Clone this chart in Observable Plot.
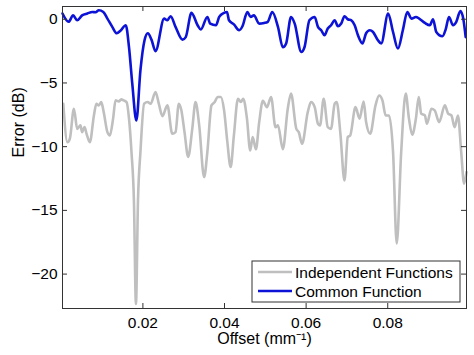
<!DOCTYPE html>
<html>
<head>
<meta charset="utf-8">
<script src="https://cdn.jsdelivr.net/npm/d3@7"></script>
<script src="https://cdn.jsdelivr.net/npm/@observablehq/plot@0.6"></script>
<style>
  html, body { margin: 0; padding: 0; background: white; }
</style>
</head>
<body>
<div id="chart"></div>
<script>
const xTicks = [0.02, 0.04, 0.06, 0.08];
const yTicks = [0, -5, -10, -15, -20];
const seriesNames = ["Independent Functions", "Common Function"];
const seriesColors = ["#bfbfbf", "#0c12d6"];

const commonX = [0.0003,0.0018,0.0029,0.0039,0.0051,0.0064,0.0076,0.0084,0.0092,0.0103,0.0113,0.0125,0.0136,0.0145,0.0158,0.0166,0.0174,0.0184,0.0194,0.0204,0.0212,0.0221,0.0231,0.0252,0.0260,0.0268,0.0280,0.0297,0.0305,0.0319,0.0334,0.0342,0.0358,0.0365,0.0379,0.0387,0.0399,0.0406,0.0411,0.0423,0.0436,0.0444,0.0456,0.0464,0.0472,0.0485,0.0497,0.0506,0.0517,0.0531,0.0543,0.0551,0.0563,0.0572,0.0588,0.0596,0.0608,0.0621,0.0629,0.0637,0.0645,0.0653,0.0661,0.0670,0.0678,0.0686,0.0694,0.0702,0.0711,0.0719,0.0727,0.0738,0.0747,0.0756,0.0764,0.0776,0.0784,0.0801,0.0813,0.0825,0.0837,0.0848,0.0858,0.0869,0.0877,0.0891,0.0903,0.0911,0.0919,0.0934,0.0942,0.0950,0.0960,0.0968,0.0978,0.0985,0.0991];
const commonY = [0.45,-0.2,0.3,-0.08,0.3,0.45,0.57,0.55,0.7,0.57,0.05,-0.6,-1.1,-0.9,-0.47,-2.2,-5.06,-7.94,-4.0,-1.65,-1.1,-1.6,-2.5,0.05,-0.08,0.24,-0.6,-1.6,-1.4,0.5,-0.47,-0.8,0.18,-0.34,-0.47,0.18,0.5,0.57,-0.08,-0.4,-0.86,-0.55,0.57,0.18,0.3,-0.34,-0.29,-0.2,0.57,-0.6,-2.2,-1.9,0.18,-0.34,-2.57,-2.2,-0.08,0.18,-0.6,-0.86,-1.26,-0.73,-0.47,-0.08,-0.55,-0.34,0.24,0.0,-0.08,-0.47,-1.26,-1.9,-1.1,-0.86,-1.0,-1.65,-1.9,0.45,-1.0,-2.3,-0.86,0.57,0.05,0.18,0.05,-0.29,-0.47,0.0,-1.0,-1.34,-0.8,0.18,-0.47,-0.2,0.65,0.05,-1.4];

const indepX = [0.0005,0.0015,0.0021,0.0031,0.0039,0.0047,0.0051,0.0057,0.0062,0.0070,0.0080,0.0086,0.0092,0.0098,0.0104,0.0113,0.0119,0.0127,0.0133,0.0141,0.0147,0.0153,0.0160,0.0166,0.0172,0.0178,0.0183,0.0188,0.0194,0.0203,0.0212,0.0219,0.0231,0.0239,0.0248,0.0260,0.0272,0.0280,0.0288,0.0294,0.0302,0.0311,0.0321,0.0329,0.0338,0.0350,0.0358,0.0368,0.0376,0.0383,0.0391,0.0399,0.0407,0.0415,0.0423,0.0433,0.0440,0.0446,0.0455,0.0463,0.0469,0.0477,0.0485,0.0494,0.0504,0.0514,0.0525,0.0531,0.0543,0.0555,0.0563,0.0576,0.0582,0.0590,0.0604,0.0612,0.0621,0.0629,0.0634,0.0643,0.0653,0.0661,0.0670,0.0675,0.0684,0.0694,0.0702,0.0708,0.0721,0.0731,0.0741,0.0747,0.0757,0.0770,0.0779,0.0787,0.0795,0.0803,0.0813,0.0822,0.0833,0.0844,0.0852,0.0860,0.0869,0.0876,0.0882,0.0891,0.0896,0.0907,0.0915,0.0926,0.0940,0.0948,0.0956,0.0964,0.0972,0.0980,0.0987,0.0993];
const indepY = [-6.63,-9.65,-9.38,-7.02,-8.6,-8.33,-8.86,-8.47,-8.99,-9.65,-7.55,-6.63,-6.76,-6.5,-7.29,-8.86,-9.12,-7.8,-6.37,-6.45,-6.29,-6.37,-6.5,-7.8,-10.4,-14.2,-22.35,-14.2,-10.4,-6.63,-6.5,-6.63,-5.71,-6.63,-7.6,-6.76,-8.99,-8.86,-6.63,-7.1,-8.86,-10.8,-8.6,-6.5,-8.33,-12.4,-10.4,-6.76,-6.5,-6.1,-6.1,-7.15,-9.65,-11.6,-9.12,-6.24,-6.5,-6.24,-7.8,-10.3,-9.25,-10.2,-8.07,-6.4,-6.9,-6.1,-8.47,-8.33,-10.2,-7.02,-5.84,-8.6,-8.86,-9.77,-7.29,-6.5,-6.9,-8.2,-8.33,-6.24,-8.47,-8.6,-6.63,-6.5,-8.99,-12.66,-9.25,-9.12,-6.9,-7.8,-6.45,-8.07,-8.99,-6.76,-5.98,-6.37,-7.55,-7.55,-10.4,-17.6,-10.4,-5.84,-7.8,-9.07,-7.8,-6.1,-7.4,-7.55,-8.2,-7.02,-7.15,-8.07,-6.76,-7.4,-7.55,-8.47,-7.55,-10.4,-12.9,-12.0];

const indep = indepX.map((x, i) => ({x, y: indepY[i]}));
const common = commonX.map((x, i) => ({x, y: commonY[i]}));

const W = 474, H = 355, mL = 62, mR = 8, mT = 6, mB = 47;
const pw = W - mL - mR, ph = H - mT - mB;
const axisColor = "#333";
const font = "'Liberation Sans', Arial, Helvetica, sans-serif";

const chart = Plot.plot({
  width: W, height: H,
  marginLeft: mL, marginRight: mR, marginTop: mT, marginBottom: mB,
  style: {fontFamily: font, fontSize: "15px", color: "black", background: "white"},
  x: {domain: [0.0003, 0.0993]},
  y: {domain: [-22.7, 1]},
  marks: [
    Plot.line(indep, {x: "x", y: "y", stroke: seriesColors[0], strokeWidth: 2.6, curve: "monotone-x"}),
    Plot.line(common, {x: "x", y: "y", stroke: seriesColors[1], strokeWidth: 2.6, curve: "monotone-x"}),
    Plot.frame({stroke: axisColor, strokeWidth: 1}),
    Plot.tickY(yTicks, {y: d => d, insetRight: pw - 5, stroke: axisColor}),
    Plot.tickY(yTicks, {y: d => d, insetLeft: pw - 5, stroke: axisColor}),
    Plot.tickX(xTicks, {x: d => d, insetBottom: ph - 5, stroke: axisColor}),
    Plot.tickX(xTicks, {x: d => d, insetTop: ph - 5, stroke: axisColor}),
    Plot.axisX({ticks: xTicks, tickSize: 0, tickPadding: 8, label: null, fontSize: 15.5}),
    Plot.axisY({ticks: yTicks, tickSize: 0, tickPadding: 5, label: null, fontSize: 15.5}),
    Plot.text(["Offset (mm⁻¹)"], {text: d => d, frameAnchor: "bottom", dy: 35, fontSize: 16}),
    Plot.text(["Error (dB)"], {text: d => d, frameAnchor: "left", dx: -43.5, rotate: -90, fontSize: 16})
  ]
});

// Legend box in the lower right corner of the frame
const svg = d3.select(chart);
const lw = 208, lh = 41;
const lx = mL + pw - 6 - lw, ly = mT + ph - 6 - lh;
const lg = svg.append("g");
lg.append("rect").attr("x", lx).attr("y", ly).attr("width", lw).attr("height", lh)
  .attr("fill", "white").attr("stroke", axisColor).attr("stroke-width", 1);
seriesNames.forEach((name, i) => {
  const cy = ly + 11 + i * 19;
  lg.append("line").attr("x1", lx + 6).attr("x2", lx + 40).attr("y1", cy).attr("y2", cy)
    .attr("stroke", seriesColors[i]).attr("stroke-width", 2.6);
  lg.append("text").attr("x", lx + 43).attr("y", cy + 5.5)
    .attr("text-anchor", "start")
    .attr("font-family", font).attr("font-size", 15.5).attr("fill", "black").text(name);
});

document.getElementById("chart").appendChild(chart);
</script>
</body>
</html>
